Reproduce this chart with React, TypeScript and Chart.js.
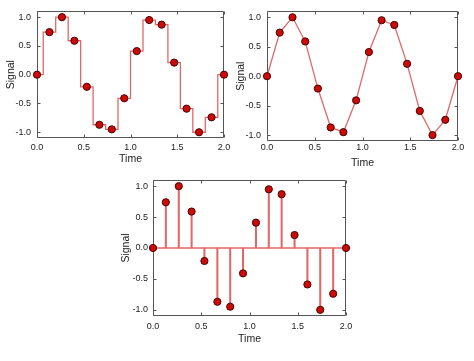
import React, { useEffect, useRef } from 'react';
import { Chart, registerables } from 'chart.js';

Chart.register(...registerables);

// ---- data ----
const times = [0, 0.133, 0.267, 0.4, 0.533, 0.667, 0.8, 0.933, 1.067, 1.2, 1.333, 1.467, 1.6, 1.733, 1.867, 2.0];
const signal = [0, 0.74, 1.0, 0.59, -0.21, -0.87, -0.95, -0.41, 0.41, 0.95, 0.87, 0.21, -0.59, -1.0, -0.74, 0];
const xTickValues = [0, 0.5, 1, 1.5, 2];
const yTickValues = [-1, -0.5, 0, 0.5, 1];
const xAxisTitle = 'Time';
const yAxisTitle = 'Signal';

const W = 474;
const H = 361;
const FONT = '"Liberation Sans", Arial, Helvetica, sans-serif';
const LINE_COLOR = '#e06868';
const MARKER_FILL = '#cc0a0a';
const MARKER_EDGE = '#4a0000';
const FRAME_COLOR = '#555555';
const TEXT_COLOR = '#222222';

type Panel = {
  kind: 'step' | 'line' | 'stem';
  left: number; right: number; top: number; bottom: number;
  yWidth: number; xHeight: number;
  xPad: number; yPad: number;
};

const panels: Panel[] = [
  { kind: 'step', left: 37, right: 224, top: 7, bottom: 138, yWidth: 32, xHeight: 27, xPad: 4, yPad: 6 },
  { kind: 'line', left: 267, right: 458, top: 8, bottom: 141, yWidth: 32, xHeight: 28, xPad: 1, yPad: 6 },
  { kind: 'stem', left: 153, right: 346, top: 180, bottom: 316, yWidth: 33, xHeight: 29, xPad: 5, yPad: 5 },
];

const framePlugin = {
  id: 'frameTicks',
  beforeDatasetsDraw(chart: any) {
    const { ctx, chartArea: a, scales } = chart;
    const xs = scales.x;
    const ys = scales.y;
    ctx.save();
    ctx.strokeStyle = FRAME_COLOR;
    ctx.lineWidth = 1;
    const L = Math.round(a.left) + 0.5;
    const R = Math.round(a.right) - 0.5;
    const T = Math.round(a.top) + 0.5;
    const B = Math.round(a.bottom) - 0.5;
    ctx.beginPath();
    ctx.rect(L, T, R - L, B - T);
    const tl = 3;
    xTickValues.forEach((v) => {
      const p = Math.round(xs.getPixelForValue(v)) + 0.5;
      ctx.moveTo(p, B); ctx.lineTo(p, B - tl);
      ctx.moveTo(p, T); ctx.lineTo(p, T + tl);
    });
    yTickValues.forEach((v) => {
      const p = Math.round(ys.getPixelForValue(v)) + 0.5;
      ctx.moveTo(L, p); ctx.lineTo(L + tl, p);
      ctx.moveTo(R, p); ctx.lineTo(R - tl, p);
    });
    ctx.stroke();
    ctx.restore();
  },
};

function buildConfig(p: Panel): any {
  const pts = times.map((t, i) => ({ x: t, y: signal[i] }));
  const markerStyle = {
    pointRadius: 3.6,
    pointBackgroundColor: MARKER_FILL,
    pointBorderColor: MARKER_EDGE,
    pointBorderWidth: 1,
    pointHoverRadius: 3.6,
  };
  let datasets: any[] = [];
  if (p.kind === 'step') {
    datasets = [{ type: 'line', data: pts, stepped: 'middle', borderColor: LINE_COLOR, borderWidth: 1.3, clip: false, ...markerStyle }];
  } else if (p.kind === 'line') {
    datasets = [{ type: 'line', data: pts, tension: 0, borderColor: LINE_COLOR, borderWidth: 1.3, clip: false, ...markerStyle }];
  } else {
    datasets = [
      { type: 'line', data: pts, showLine: false, clip: false, order: 0, ...markerStyle },
      {
        type: 'line',
        data: [{ x: times[0], y: 0 }, { x: times[times.length - 1], y: 0 }],
        borderColor: LINE_COLOR, borderWidth: 1.3, pointRadius: 0, clip: false, order: 1,
      },
      { type: 'bar', data: pts, backgroundColor: LINE_COLOR, barThickness: 1.4, order: 2 },
    ];
  }

  const tickFont = { family: FONT, size: 9 };
  const titleFont = { family: FONT, size: 10.5 };

  return {
    type: 'line',
    data: { datasets },
    plugins: [framePlugin],
    options: {
      animation: false,
      responsive: false,
      devicePixelRatio: 1,
      events: [],
      layout: {
        padding: {
          left: p.left - p.yWidth,
          right: W - p.right,
          top: p.top,
          bottom: H - p.bottom - p.xHeight,
        },
      },
      plugins: { legend: { display: false }, tooltip: { enabled: false } },
      scales: {
        x: {
          type: 'linear',
          position: 'bottom',
          min: 0,
          max: 2,
          offset: false,
          afterBuildTicks: (s: any) => { s.ticks = xTickValues.map((v) => ({ value: v })); },
          afterFit: (s: any) => { s.height = p.xHeight; },
          grid: { display: false, drawTicks: false },
          border: { display: false },
          ticks: {
            padding: p.xPad, font: tickFont, color: TEXT_COLOR, maxRotation: 0, autoSkip: false,
            callback: (v: any) => Number(v).toFixed(1),
          },
          title: { display: true, text: xAxisTitle, font: titleFont, color: TEXT_COLOR, padding: 0 },
        },
        y: {
          type: 'linear',
          position: 'left',
          min: -1.1,
          max: 1.1,
          afterBuildTicks: (s: any) => { s.ticks = yTickValues.map((v) => ({ value: v })); },
          afterFit: (s: any) => { s.width = p.yWidth; },
          grid: { display: false, drawTicks: false },
          border: { display: false },
          ticks: {
            padding: p.yPad, font: tickFont, color: TEXT_COLOR, autoSkip: false,
            callback: (v: any) => Number(v).toFixed(1),
          },
          title: { display: true, text: yAxisTitle, font: titleFont, color: TEXT_COLOR, padding: 0 },
        },
      },
    },
  };
}

function PanelChart({ panel }: { panel: Panel }) {
  const ref = useRef<HTMLCanvasElement | null>(null);
  useEffect(() => {
    if (!ref.current) return;
    const chart = new Chart(ref.current, buildConfig(panel));
    return () => chart.destroy();
  }, [panel]);
  return (
    <canvas
      ref={ref}
      width={W}
      height={H}
      style={{ position: 'absolute', left: 0, top: 0, width: W, height: H }}
    />
  );
}

export default function App() {
  return (
    <div style={{ position: 'fixed', left: 0, top: 0, width: W, height: H, background: '#ffffff', overflow: 'hidden' }}>
      {panels.map((p, i) => (
        <PanelChart key={i} panel={p} />
      ))}
    </div>
  );
}
